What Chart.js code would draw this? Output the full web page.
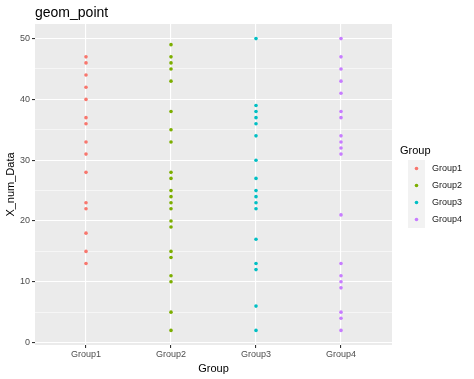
<!DOCTYPE html>
<html>
<head>
<meta charset="utf-8">
<script src="https://cdn.jsdelivr.net/npm/chart.js@4/dist/chart.umd.min.js"></script>
<style>
  html, body { margin: 0; padding: 0; background: #fff; }
  #wrap { width: 474px; height: 379px; }
</style>
</head>
<body>
<div id="wrap"><canvas id="chart" width="474" height="379"></canvas></div>
<script>
// Data
const groups = ['Group1', 'Group2', 'Group3', 'Group4'];
const colors = ['#F8766D', '#7CAE00', '#00BFC4', '#C77CFF'];
const group1 = [47, 46, 44, 42, 40, 37, 36, 33, 31, 28, 23, 22, 18, 15, 13];
const group2 = [49, 47, 46, 45, 43, 38, 35, 33, 28, 27, 25, 24, 23, 22, 20, 19, 15, 14, 11, 10, 5, 2];
const group3 = [50, 39, 38, 37, 36, 34, 30, 27, 25, 24, 23, 22, 17, 13, 12, 6, 2];
const group4 = [50, 47, 45, 43, 41, 38, 37, 34, 33, 32, 31, 21, 13, 11, 10, 9, 5, 4, 2];
const yTicks = [0, 5, 10, 15, 20, 25, 30, 35, 40, 45, 50];
const FONT = '"Liberation Sans", Arial, sans-serif';

const seriesValues = [group1, group2, group3, group4];

const datasets = groups.map((g, i) => ({
    label: g,
    data: seriesValues[i].map(v => ({ x: i + 1, y: v })),
    backgroundColor: colors[i],
    borderColor: colors[i],
    borderWidth: 0,
    pointRadius: 1.8,
    pointHoverRadius: 1.8
}));

// grey panel, title and legend drawn straight on the canvas
const ggPlugin = {
    id: 'ggLook',
    beforeDraw(chart) {
        const { ctx, chartArea: a } = chart;
        ctx.save();
        ctx.fillStyle = '#EBEBEB';
        ctx.fillRect(a.left, a.top, a.right - a.left, a.bottom - a.top);
        ctx.restore();
    },
    afterDraw(chart) {
        const { ctx, chartArea: a } = chart;
        ctx.save();
        // title
        ctx.fillStyle = '#000';
        ctx.font = '14px ' + FONT;
        ctx.textBaseline = 'alphabetic';
        ctx.textAlign = 'left';
        ctx.fillText('geom_point', a.left, 17);

        // legend
        const lx = 400, top = 145;
        ctx.font = '11px ' + FONT;
        ctx.fillText('Group', lx, top + 9);
        groups.forEach((g, i) => {
            const ky = top + 15 + i * 17;
            ctx.fillStyle = '#F2F2F2';
            ctx.fillRect(lx + 8, ky, 17, 17);
            ctx.fillStyle = colors[i];
            ctx.beginPath();
            ctx.arc(lx + 16.5, ky + 8.5, 1.8, 0, Math.PI * 2);
            ctx.fill();
            ctx.fillStyle = '#1a1a1a';
            ctx.font = '9px ' + FONT;
            ctx.textBaseline = 'middle';
            ctx.fillText(g, lx + 32, ky + 8.5);
        });
        ctx.restore();
    }
};

new Chart(document.getElementById('chart'), {
    type: 'scatter',
    data: { datasets: datasets },
    plugins: [ggPlugin],
    options: {
        responsive: false,
        animation: false,
        layout: { padding: { top: 24, right: 82, left: 0, bottom: 0 } },
        plugins: {
            legend: { display: false },
            tooltip: { enabled: false }
        },
        scales: {
            x: {
                type: 'linear',
                min: 0.4,
                max: 4.6,
                afterBuildTicks: scale => {
                    scale.ticks = groups.map((g, i) => ({ value: i + 1 }));
                },
                afterFit: scale => { scale.height = 34; },
                border: { display: false },
                grid: {
                    color: '#FFFFFF',
                    lineWidth: 1.1,
                    drawTicks: true,
                    tickLength: 3,
                    tickColor: '#333333'
                },
                ticks: {
                    padding: 1,
                    color: '#4D4D4D',
                    font: { family: FONT, size: 9 },
                    callback: v => groups[Math.round(v) - 1] || ''
                },
                title: {
                    display: true,
                    text: 'Group',
                    color: '#000',
                    padding: { top: 0, bottom: 3 },
                    font: { family: FONT, size: 11 }
                }
            },
            y: {
                type: 'linear',
                min: -0.4,
                max: 52.4,
                afterBuildTicks: scale => {
                    scale.ticks = yTicks.map(v => ({ value: v }));
                },
                afterFit: scale => { scale.width = 35; },
                border: { display: false },
                grid: {
                    color: '#FFFFFF',
                    lineWidth: ctx => (ctx.tick && ctx.tick.value % 10 === 0) ? 1.1 : 0.55,
                    drawTicks: true,
                    tickLength: 3,
                    tickColor: ctx => (ctx.tick && ctx.tick.value % 10 === 0) ? '#333333' : 'rgba(0,0,0,0)'
                },
                ticks: {
                    padding: 2,
                    color: '#4D4D4D',
                    font: { family: FONT, size: 9 },
                    callback: v => (v % 10 === 0 ? String(v) : '')
                },
                title: {
                    display: true,
                    text: 'X_num_Data',
                    color: '#000',
                    padding: { top: 4, bottom: 0 },
                    font: { family: FONT, size: 11 }
                }
            }
        }
    }
});
</script>
</body>
</html>
